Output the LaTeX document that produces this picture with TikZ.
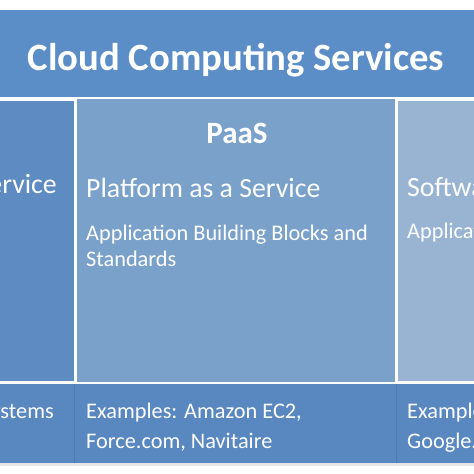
\documentclass[tikz,border=0pt]{standalone}
\usepackage{fontspec}
\setmainfont{Carlito}
\definecolor{banner}{HTML}{5B8DC6}
\definecolor{leftcol}{HTML}{5E8CC2}
\definecolor{midcol}{HTML}{7AA1CA}
\definecolor{rightcol}{HTML}{99B4D2}
\definecolor{band}{HTML}{5987BF}
\definecolor{sep}{HTML}{5079AE}
\tikzset{
  txt/.style={inner sep=0pt, text=white, font=\fontsize{22.3}{26}\selectfont},
  head/.style={inner sep=0pt, text=white, font=\fontsize{27.8}{30}\selectfont},
  bighead/.style={inner sep=0pt, text=white, font=\bfseries\fontsize{31}{34}\selectfont},
  titletxt/.style={inner sep=0pt, text=white, font=\bfseries\fontsize{38.7}{42}\selectfont},
}
\begin{document}
\begin{tikzpicture}[x=1pt,y=-1pt]
\useasboundingbox (0,0) rectangle (474,474);
\fill[white] (0,0) rectangle (474,474);
\clip (0,0) rectangle (474,474);
% banner
\fill[banner] (0,10) rectangle (474,97);
\node[titletxt, anchor=base] (title) at (236,70) {Cloud Computing Services};
% columns
\fill[leftcol] (-5,101) rectangle (74,381);
\fill[midcol] (77,99) rectangle (395,382);
\fill[rightcol] (398,101) rectangle (480,381);
% bottom band
\fill[band] (-5,384) rectangle (480,463);
\fill[black!10] (-5,463) rectangle (480,466);
\draw[sep, line width=1pt] (74,384) -- (74,463);
\draw[sep, line width=1pt] (396,384) -- (396,463);
% left column texts
\node[head, anchor=base east] (lhead) at (57,193) {Service};
\node[txt, anchor=base east] (lex) at (54,418) {Systems};
% middle
\node[bighead, anchor=base] (paas) at (237,143) {PaaS};
\node[head, anchor=base west] (mhead) at (86,197) {Platform as a Service};
\node[txt, anchor=base west] (mdesc) at (86,240) {Application Building Blocks and};
\node[txt, anchor=base west] (mdesc2) at (86,266) {Standards};
\node[txt, anchor=base west] (mex) at (86,418) {Examples: Amazon EC2,};
\node[txt, anchor=base west] (mex2) at (86,448) {Force.com, Navitaire};
% right
\node[head, anchor=base west] (rhead) at (407,196) {Software};
\node[txt, anchor=base west] (rdesc) at (407,238) {Applications};
\node[txt, anchor=base west] (rex) at (407,418) {Examples:};
\node[txt, anchor=base west] (rex2) at (407,448) {Google.Apps};
\end{tikzpicture}
\end{document}
